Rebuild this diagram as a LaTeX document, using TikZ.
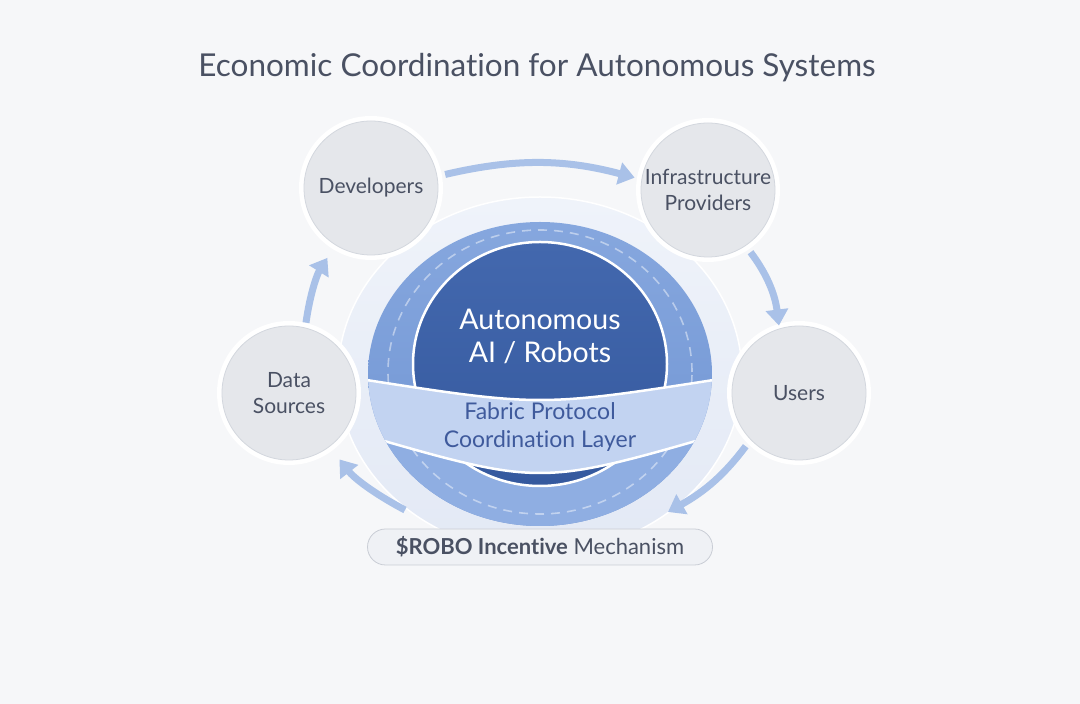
\documentclass[tikz,border=0pt]{standalone}
\usepackage{fontspec}
\setmainfont{Lato}[Ligatures=NoCommon]
\usetikzlibrary{arrows.meta}

\definecolor{bgc}{HTML}{F6F7F9}
\definecolor{paletop}{HTML}{EFF3FA}
\definecolor{palebot}{HTML}{E3E9F5}
\definecolor{ringtop}{HTML}{86A7DE}
\definecolor{ringbot}{HTML}{6F94D3}
\definecolor{lowblue}{HTML}{8FAEE2}
\definecolor{coretop}{HTML}{4368AE}
\definecolor{corebot}{HTML}{35599E}
\definecolor{bandblue}{HTML}{C2D3F1}
\definecolor{bandtext}{HTML}{3F5A9C}
\definecolor{nodefill}{HTML}{E5E7EB}
\definecolor{nodeline}{HTML}{D3D7DE}
\definecolor{inktext}{HTML}{4A5163}
\definecolor{arrowblue}{HTML}{A9C1E8}
\definecolor{pillfill}{HTML}{EFF1F5}
\definecolor{pillline}{HTML}{C9CDD5}

\begin{document}
\begin{tikzpicture}[x=1pt, y=1pt,
  actor/.style={circle, draw=nodeline, line width=0.8pt, fill=nodefill, minimum size=134pt, inner sep=0pt, align=center, text=inktext, font=\fontsize{21}{26}\selectfont, preaction={draw=white, line width=10pt}},
  flow/.style={draw=arrowblue, line width=7pt, -{Triangle[width=22pt,length=16pt]}}]
\useasboundingbox (0,0) rectangle (1080,704);
\fill[bgc] (0,0) rectangle (1080,704);

% title
\node[text=inktext, font=\fontsize{31.5}{38}\selectfont] (Title) at (537,636) {Economic Coordination for Autonomous Systems};

% sphere in the middle
\shade[top color=paletop, bottom color=palebot, draw=white, line width=1.5pt] (540,329) ellipse [x radius=202, y radius=178];
\shade[top color=ringtop, bottom color=ringbot] (540,330) ellipse [x radius=172, y radius=152];
\begin{scope}
\clip (540,330) ellipse [x radius=172, y radius=152];
\fill[lowblue] (360,270) .. controls (540,218) .. (720,270) -- (720,150) -- (360,150) -- cycle;
\end{scope}
\draw[white, opacity=0.45, line width=1.6pt, dash pattern=on 9pt off 7pt] (540,332) ellipse [x radius=152, y radius=142];
\shade[top color=coretop, bottom color=corebot, draw=white, line width=2.5pt] (540,340) ellipse [x radius=127, y radius=122];
\node[text=white, align=center, font=\fontsize{28.5}{33}\selectfont] (Core) at (540,368) {Autonomous\\AI / Robots};

% band
\begin{scope}
\clip (540,330) ellipse [x radius=172, y radius=152];
\fill[bandblue] (360,325) .. controls (540,297) .. (720,325) -- (720,270) .. controls (540,218) .. (360,270) -- cycle;
\draw[white, line width=2.5pt] (360,325) .. controls (540,297) .. (720,325);
\draw[white, line width=2.5pt] (360,270) .. controls (540,218) .. (720,270);
\end{scope}
\node[text=bandtext, align=center, font=\fontsize{23}{28}\selectfont] (Band) at (540,277) {Fabric Protocol\\Coordination Layer};

% the four parties
\node[actor] (Dev) at (371,516) {Developers};
\node[actor] (Infra) at (708,514) {Infrastructure\\Providers};
\node[actor] (Users) at (799,311) {Users};
\node[actor] (Data) at (289,311) {Data\\Sources};

% incentive
\node[draw=pillline, fill=pillfill, line width=0.8pt, rounded corners=18pt, minimum width=345pt, minimum height=36pt, text=inktext, font=\fontsize{22}{26}\selectfont] (Pill) at (540,157) {\textbf{\$ROBO Incentive} Mechanism};
\coordinate (LoopR) at (668,192);
\coordinate (LoopL) at (405,194);

% cycle
\draw[flow, shorten <=8pt, shorten >=7pt] (Dev.10) to[bend left=14] (Infra.171);
\draw[flow, shorten <=8pt, shorten >=3pt] (Infra.-56) to[bend left=15] (Users.107);
\draw[flow, shorten <=8pt] (Users.-136) to[bend left=12] (LoopR);
\draw[flow, shorten >=16pt] (LoopL) to[bend left=12] (Data.-53);
\draw[flow, shorten <=5pt, shorten >=15pt] (Data.76) to[bend left=12] (Dev.-122);
\end{tikzpicture}
\end{document}
